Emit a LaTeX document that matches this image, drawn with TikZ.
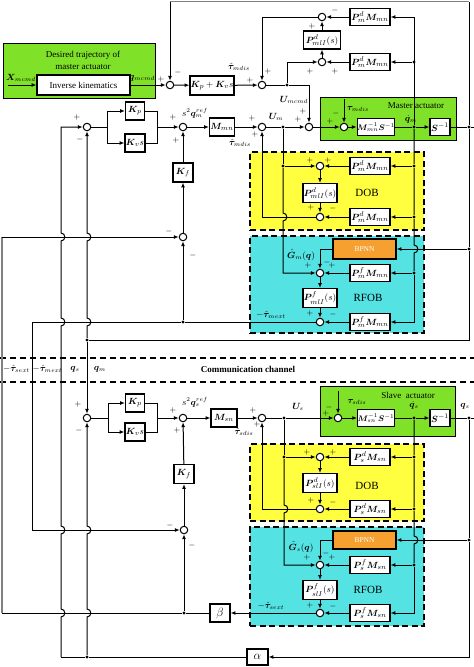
\documentclass[tikz,border=0pt]{standalone}
\usepackage{fontspec}
\setmainfont{Liberation Serif}
\usepackage{bm}
\usetikzlibrary{arrows.meta}
\definecolor{actgreen}{RGB}{128,226,40}
\definecolor{dobyellow}{RGB}{255,255,64}
\definecolor{fobcyan}{RGB}{84,226,226}
\definecolor{nnorange}{RGB}{246,160,48}

\begin{document}
\begin{tikzpicture}[x=1pt,y=-1pt,line width=1pt,
  font=\fontsize{9}{10}\selectfont,
  arw/.style={-{Latex[length=4.8pt,width=3.8pt]}},
  blk/.style={draw,fill=white,line width=1.1pt,inner sep=0pt,
    minimum height=17pt,font=\fontsize{9.5}{10}\selectfont},
  sumc/.style={circle,draw,fill=white,inner sep=0pt,minimum size=7.5pt},
  jn/.style={circle,fill,inner sep=0pt,minimum size=3.4pt},
  sg/.style={font=\fontsize{8}{8}\selectfont,inner sep=0pt},
  lb/.style={font=\fontsize{9}{10}\selectfont,inner sep=0pt},
  obs/.style={draw,line width=1.6pt,dash pattern=on 6pt off 3.5pt,inner sep=0pt},
  act/.style={draw,fill=actgreen,line width=1pt,inner sep=0pt},
  chan/.style={line width=1.3pt,dash pattern=on 6pt off 4pt},
  rim/.style={black!50,line width=1.5pt}]
  \useasboundingbox (0,0) rectangle (474,667);

  % ---- master side: coloured frames
  \node[act,minimum width=152pt,minimum height=55pt] (DT) at (79,70.5) {};
  \node[font=\fontsize{9}{12}\selectfont,align=center] (DTt) at (83,60)
    {Desired trajectory of\\master actuator};
  \node[act,minimum width=136pt,minimum height=43pt] (MA) at (388,118.5) {};
  \node[lb] (MAt) at (416,105.5) {Master actuator};
  \node[obs,fill=dobyellow,minimum width=174pt,minimum height=78pt] (DOBm) at (337,191) {};
  \node[font=\fontsize{11}{12}\selectfont] (DOBmt) at (367,193) {DOB};
  \node[obs,fill=fobcyan,minimum width=174pt,minimum height=97pt] (RFm) at (337,284.5) {};
  \node[font=\fontsize{11}{12}\selectfont] (RFmt) at (368,298) {RFOB};

  % ---- slave side: coloured frames
  \node[act,minimum width=135pt,minimum height=50pt] (SA) at (387.5,411) {};
  \node[lb] (SAt) at (408,395) {Slave\ \ actuator};
  \node[obs,fill=dobyellow,minimum width=174pt,minimum height=77pt] (DOBs) at (337,482.5) {};
  \node[font=\fontsize{11}{12}\selectfont] (DOBst) at (367,486) {DOB};
  \node[obs,fill=fobcyan,minimum width=174pt,minimum height=99pt] (RFs) at (337,576.5) {};
  \node[font=\fontsize{11}{12}\selectfont] (RFst) at (368,590) {RFOB};

  % ---- communication channel
  \coordinate (CL1) at (0,358);   \coordinate (CR1) at (474,358);
  \coordinate (CL2) at (0,382);   \coordinate (CR2) at (474,382);
  \draw[chan] (CL1) -- (CR1);
  \draw[chan] (CL2) -- (CR2);
  \node[font=\bfseries\fontsize{9}{10}\selectfont] (CC) at (248,369) {Communication channel};
  \node[lb] (c1) at (16.5,369) {$-\hat{\bm{\tau}}_{sext}$};
  \node[lb] (c2) at (47.5,369) {$-\hat{\bm{\tau}}_{mext}$};
  \node[lb] (c3) at (75,369) {$\bm{q}_s$};
  \node[lb] (c4) at (100,369) {$\bm{q}_m$};

  % ---- master blocks
  \coordinate (XIN) at (8,85);
  \node[blk,minimum width=93pt,minimum height=20pt,font=\fontsize{9}{10}\selectfont]
    (IK) at (83.5,85) {Inverse kinematics};
  \node[sumc] (S1) at (170,85) {};
  \node[blk,minimum width=44pt,minimum height=19pt] (KPV) at (212,85.5) {$\bm{K}_p+\bm{K}_v s$};
  \node[sumc] (S2) at (262,85) {};
  \node[jn] (DU) at (287,85) {};
  \node[sumc] (S3) at (322,17) {};
  \node[blk,minimum width=40pt] (PTA) at (370,17) {$\bm{P}^d_m\bm{M}_{mn}$};
  \node[blk,minimum width=37pt,minimum height=18pt] (PTL) at (322,40) {$\bm{P}^d_{mlI}(s)$};
  \node[sumc] (S4) at (322,62) {};
  \node[blk,minimum width=40pt] (PTB) at (370,62) {$\bm{P}^d_m\bm{M}_{mn}$};
  \node[jn] (T62) at (414,62) {};
  \node[sumc] (S7) at (87,127) {};
  \coordinate (BL) at (107,127);
  \coordinate (BR) at (157,127);
  \node[blk,minimum width=19pt,minimum height=18pt] (KP) at (135,111) {$\bm{K}_p$};
  \node[blk,minimum width=20pt,minimum height=18pt] (KV) at (135,143) {$\bm{K}_v s$};
  \node[sumc] (S10) at (183,127) {};
  \node[blk,minimum width=25pt,minimum height=18pt] (MM) at (222,127) {$\bm{M}_{mn}$};
  \node[sumc] (S11) at (262,127) {};
  \node[jn] (DUM) at (283,127) {};
  \node[sumc] (S5) at (309,127) {};
  \node[sumc] (S6) at (344,127) {};
  \coordinate (TMD) at (344,99);
  \node[blk,minimum width=33pt,font=\fontsize{8}{8}\selectfont] (MIV) at (376,127)
    {$\bm{M}^{-1}_{mn}\bm{S}^{-1}$};
  \node[jn] (QDM) at (414,127) {};
  \node[blk,minimum width=20pt] (SIV) at (440,127) {$\bm{S}^{-1}$};
  \node[jn] (QM) at (469,127) {};
  \coordinate (QME) at (473.5,127);
  \node[blk,minimum width=20pt,minimum height=19pt] (KF) at (183,172.5) {$\bm{K}_f$};
  \node[sumc] (S9) at (183,237) {};
  % master DOB
  \node[sumc] (D1) at (320,166) {};
  \node[blk,minimum width=40pt] (PDA) at (370,166) {$\bm{P}^d_m\bm{M}_{mn}$};
  \node[blk,minimum width=34pt,minimum height=19pt] (PDL) at (320,193) {$\bm{P}^d_{mlI}(s)$};
  \node[sumc] (D2) at (320,217) {};
  \node[blk,minimum width=40pt] (PDB) at (370,217) {$\bm{P}^d_m\bm{M}_{mn}$};
  \node[jn] (U166) at (283,166) {};
  \node[jn] (T166) at (414,166) {};
  \node[jn] (T217) at (414,217) {};
  % master RFOB
  \node[blk,fill=nnorange,minimum width=63pt,minimum height=20pt,text=white,
    font=\fontsize{7.5}{8}\selectfont] (NN) at (364.5,249) {BPNN};
  \node[sumc] (R1) at (320,273) {};
  \node[blk,minimum width=40pt] (PFA) at (370,273) {$\bm{P}^f_m\bm{M}_{mn}$};
  \node[blk,minimum width=34pt,minimum height=19pt] (PFL) at (320,298) {$\bm{P}^f_{mlI}(s)$};
  \node[sumc] (R2) at (320,322) {};
  \node[blk,minimum width=40pt] (PFB) at (370,322) {$\bm{P}^f_m\bm{M}_{mn}$};
  \node[jn] (T273) at (414,273) {};
  \node[jn] (QMB) at (469,249) {};
  \coordinate (QMR) at (469,340);
  \node[jn] (MX) at (183,322) {};
  \node[jn] (QMC) at (87,340) {};
  \coordinate (TR) at (469,1.5);
  \coordinate (TL) at (170,1.5);

  % ---- slave blocks
  \node[sumc] (S8) at (87,418) {};
  \coordinate (BLs) at (108,418);
  \coordinate (BRs) at (157,418);
  \node[blk,minimum width=19pt,minimum height=18pt] (KPS) at (135,403) {$\bm{K}_p$};
  \node[blk,minimum width=20pt,minimum height=18pt] (KVS) at (135,432) {$\bm{K}_v s$};
  \node[sumc] (S12) at (183,418) {};
  \node[blk,minimum width=26pt,minimum height=18pt] (MS) at (224,418) {$\bm{M}_{sn}$};
  \node[sumc] (S13) at (262,418) {};
  \node[jn] (USD) at (284,418) {};
  \node[sumc] (S14) at (338,418) {};
  \coordinate (TSD) at (338,391);
  \node[blk,minimum width=33pt,font=\fontsize{8}{8}\selectfont] (MSIV) at (376,418)
    {$\bm{M}^{-1}_{sn}\bm{S}^{-1}$};
  \node[jn] (QDS) at (414,418) {};
  \node[blk,minimum width=20pt] (SSIV) at (440,418) {$\bm{S}^{-1}$};
  \node[jn] (QS) at (469,418) {};
  \coordinate (QSE) at (473.5,418);
  \node[blk,minimum width=20pt,minimum height=19pt] (KFS) at (184,474) {$\bm{K}_f$};
  \node[sumc] (S15) at (184,530) {};
  % slave DOB
  \node[sumc] (D3) at (320,457) {};
  \node[blk,minimum width=40pt] (PDSA) at (370,457) {$\bm{P}^d_s\bm{M}_{sn}$};
  \node[blk,minimum width=34pt,minimum height=19pt] (PDSL) at (320,483) {$\bm{P}^d_{slI}(s)$};
  \node[sumc] (D4) at (320,509) {};
  \node[blk,minimum width=40pt] (PDSB) at (370,509) {$\bm{P}^d_s\bm{M}_{sn}$};
  \node[jn] (W457) at (284,457) {};
  \node[jn] (V457) at (414,457) {};
  \node[jn] (V509) at (414,509) {};
  % slave RFOB
  \node[blk,fill=nnorange,minimum width=63pt,minimum height=18pt,text=white,
    font=\fontsize{7.5}{8}\selectfont] (NNs) at (364.5,540) {BPNN};
  \node[sumc] (R3) at (320,565) {};
  \node[blk,minimum width=40pt] (PFSA) at (370,565) {$\bm{P}^f_s\bm{M}_{sn}$};
  \node[blk,minimum width=34pt,minimum height=19pt] (PFSL) at (320,590) {$\bm{P}^f_{slI}(s)$};
  \node[sumc] (R4) at (320,613) {};
  \node[blk,minimum width=40pt] (PFSB) at (370,613) {$\bm{P}^f_s\bm{M}_{sn}$};
  \node[jn] (V565) at (414,565) {};
  \node[jn] (QSB) at (469,540) {};
  \node[blk,minimum width=20pt,minimum height=18pt,font=\fontsize{12}{12}\selectfont]
    (BETA) at (220,613) {$\beta$};
  \node[jn] (SX) at (184,613) {};
  \node[blk,minimum width=21pt,minimum height=16pt,font=\fontsize{12}{12}\selectfont]
    (ALPHA) at (257.5,657) {$\alpha$};
  \node[jn] (AD) at (87,657) {};
  \coordinate (AL) at (61,657);
  \coordinate (FL1) at (2,613);
  \coordinate (FL2) at (2,237);
  \coordinate (ML1) at (32,322);
  \coordinate (ML2) at (32,530);

  % ---- signal labels
  \node[lb] (Xl) at (21,78) {$\bm{X}_{mcmd}$};
  \node[lb] (ql) at (142,78) {$\bm{q}_{mcmd}$};
  \node[lb] (tdh1) at (239,67) {$\hat{\bm{\tau}}_{mdis}$};
  \node[lb] (Ucl) at (294,100) {$\bm{U}_{mcmd}$};
  \node[lb] (Uml) at (276,117) {$\bm{U}_m$};
  \node[lb] (tdh2) at (240,143) {$\hat{\bm{\tau}}_{mdis}$};
  \node[lb] (sqm) at (195,113) {$s^2\bm{q}_m^{ref}$};
  \node[lb] (tml) at (358,109) {$\bm{\tau}_{mdis}$};
  \node[lb] (qdml) at (411,119) {$\dot{\bm{q}}_m$};
  \node[lb] (Gml) at (301,255) {$\hat{\bm{G}}_m(\bm{q})$};
  \node[lb] (tmx) at (271,315) {$-\hat{\bm{\tau}}_{mext}$};
  \node[lb] (sqs) at (195,402) {$s^2\bm{q}_s^{ref}$};
  \node[lb] (Usl) at (298,407) {$\bm{U}_s$};
  \node[lb] (tdh3) at (244,432) {$\hat{\bm{\tau}}_{sdis}$};
  \node[lb] (tsl) at (357,402) {$\bm{\tau}_{sdis}$};
  \node[lb] (qdsl) at (414,405) {$\dot{\bm{q}}_s$};
  \node[lb] (qsl) at (465,406) {$\bm{q}_s$};
  \node[lb] (Gsl) at (301,547) {$\hat{\bm{G}}_s(\bm{q})$};
  \node[lb] (tsx) at (271,606) {$-\hat{\bm{\tau}}_{sext}$};

  % ---- signs at the summing points
  \foreach \x/\y/\s [count=\i] in {161/79/+,178/72/-,268/71/+,250/80/+,335/10/-,312/26/+,
      310/71/+,335/71/+,298/119/+,303/111/+,336/113/-,330/121/+,77/117/+,80/139/-,
      173/117/+,176/140/+,252/118/+,255/134/+,169/231/-,193/255/-,310/160/+,328/160/+,
      311/207/+,333/208/-,308/265/+,327/262/-,332/265/+,310/313/+,333/314/-,
      78/404/+,79/430/-,173/410/+,177/430/+,253/410/+,257/424/+,329/407/-,326/413/+,
      170/525/-,192/545/-,307/452/+,333/452/+,311/500/+,333/502/-,
      307/557/+,326/553/-,332/557/+,310/605/+,333/606/-}
    \node[sg] (g\i) at (\x,\y) {$\s$};

  % ---- master connections
  \draw[arw] (XIN) -- (IK);
  \draw[arw] (IK) -- (S1);
  \draw (QM) -- (TR);
  \draw[rim] (TR) -- (TL);
  \draw[arw] (TL) -- (S1);
  \draw[arw] (S1) -- (KPV);
  \draw[arw] (KPV) -- (S2);
  \draw (S2) -- (DU);
  \draw[arw] (DU) -| (S5);
  \draw[arw] (DU) |- (S4);
  \draw[arw] (QDM) |- (PTA);
  \draw[arw] (T62) -- (PTB);
  \draw[arw] (PTA) -- (S3);
  \draw[arw] (PTB) -- (S4);
  \draw[arw] (S4) -- (PTL);
  \draw[arw] (PTL) -- (S3);
  \draw[arw] (S3) -| (S2);
  \draw[arw] (TMD) -- (S6);
  \draw[arw] (S5) -- (S6);
  \draw[arw] (S6) -- (MIV);
  \draw (MIV) -- (QDM);
  \draw[arw] (QDM) -- (SIV);
  \draw (SIV) -- (QM) -- (QME);
  \draw (S7) -- (BL);
  \draw[arw] (BL) |- (KP);
  \draw[arw] (BL) |- (KV);
  \draw (KP) -| (BR);
  \draw (KV) -| (BR);
  \draw[arw] (BR) -- (S10);
  \draw[arw] (S10) -- (MM);
  \draw[arw] (MM) -- (S11);
  \draw (S11) -- (DUM);
  \draw[arw] (DUM) -- (S5);
  \draw[arw] (S9) -- (KF);
  \draw[arw] (KF) -- (S10);
  \draw (DUM) -- (U166);
  \draw[arw] (U166) -- (D1);
  \draw[arw] (U166) -- (283,213) .. controls +(5,0) and +(5,0) .. (283,221) |- (R1);
  \draw (QDM) -- (T166) -- (T217) -- (414,245)
    .. controls +(5,0) and +(5,0) .. (414,253) -- (T273);
  \draw[arw] (T166) -- (PDA);
  \draw[arw] (T217) -- (PDB);
  \draw[arw] (T273) -- (PFA);
  \draw[arw] (T273) |- (PFB);
  \draw[arw] (PDA) -- (D1);
  \draw[arw] (PDB) -- (D2);
  \draw[arw] (D1) -- (PDL);
  \draw[arw] (PDL) -- (D2);
  \draw[arw] (D2) -| (S11);
  \draw (QM) -- (QMB) -- (QMR) -- (QMC);
  \draw[arw] (QMB) -- (NN);
  \draw[arw] (NN) -| (R1);
  \draw[arw] (PFA) -- (R1);
  \draw[arw] (R1) -- (PFL);
  \draw[arw] (PFL) -- (R2);
  \draw[arw] (PFB) -- (R2);
  \draw (R2) -- (MX);
  \draw[arw] (MX) -- (S9);
  \draw[arw] (MX) -- (ML1) -- (ML2) -- (S15);
  \draw[arw] (QMC) -- (87,326) .. controls +(5,0) and +(5,0) .. (87,318)
    -- (87,241) .. controls +(5,0) and +(5,0) .. (87,233) -- (S7);
  \draw[arw] (QMC) -- (S8);

  % ---- slave connections
  \draw (S8) -- (BLs);
  \draw[arw] (BLs) |- (KPS);
  \draw[arw] (BLs) |- (KVS);
  \draw (KPS) -| (BRs);
  \draw (KVS) -| (BRs);
  \draw[arw] (BRs) -- (S12);
  \draw[arw] (S12) -- (MS);
  \draw[arw] (MS) -- (S13);
  \draw (S13) -- (USD);
  \draw[arw] (USD) -- (S14);
  \draw[arw] (TSD) -- (S14);
  \draw[arw] (S14) -- (MSIV);
  \draw (MSIV) -- (QDS);
  \draw[arw] (QDS) -- (SSIV);
  \draw (SSIV) -- (QS) -- (QSE);
  \draw[arw] (S15) -- (KFS);
  \draw[arw] (KFS) -- (S12);
  \draw (USD) -- (W457);
  \draw[arw] (W457) -- (D3);
  \draw[arw] (W457) -- (284,505) .. controls +(5,0) and +(5,0) .. (284,513) |- (R3);
  \draw (QDS) -- (V457) -- (V509) -- (414,536)
    .. controls +(5,0) and +(5,0) .. (414,544) -- (V565);
  \draw[arw] (V457) -- (PDSA);
  \draw[arw] (V509) -- (PDSB);
  \draw[arw] (V565) -- (PFSA);
  \draw[arw] (V565) |- (PFSB);
  \draw[arw] (PDSA) -- (D3);
  \draw[arw] (PDSB) -- (D4);
  \draw[arw] (D3) -- (PDSL);
  \draw[arw] (PDSL) -- (D4);
  \draw[arw] (D4) -| (S13);
  \draw (QS) -- (QSB);
  \draw[arw] (QSB) -- (NNs);
  \draw[arw] (QSB) |- (ALPHA);
  \draw[arw] (NNs) -| (R3);
  \draw[arw] (PFSA) -- (R3);
  \draw[arw] (R3) -- (PFSL);
  \draw[arw] (PFSL) -- (R4);
  \draw[arw] (PFSB) -- (R4);
  \draw[arw] (R4) -- (BETA);
  \draw (BETA) -- (SX);
  \draw[arw] (SX) -- (S15);
  \draw (SX) -- (FL1);
  \draw[rim] (FL1) -- (FL2);
  \draw[arw] (FL2) -- (S9);
  \draw (ALPHA) -- (AD) -- (AL);
  \draw[arw] (AD) -- (87,617) .. controls +(5,0) and +(5,0) .. (87,609)
    -- (87,534) .. controls +(5,0) and +(5,0) .. (87,526) -- (S8);
  \draw[arw] (AL) -- (61,617) .. controls +(5,0) and +(5,0) .. (61,609)
    -- (61,534) .. controls +(5,0) and +(5,0) .. (61,526)
    -- (61,326) .. controls +(5,0) and +(5,0) .. (61,318)
    -- (61,241) .. controls +(5,0) and +(5,0) .. (61,233) -- (61,127) -- (S7);
\end{tikzpicture}
\end{document}
